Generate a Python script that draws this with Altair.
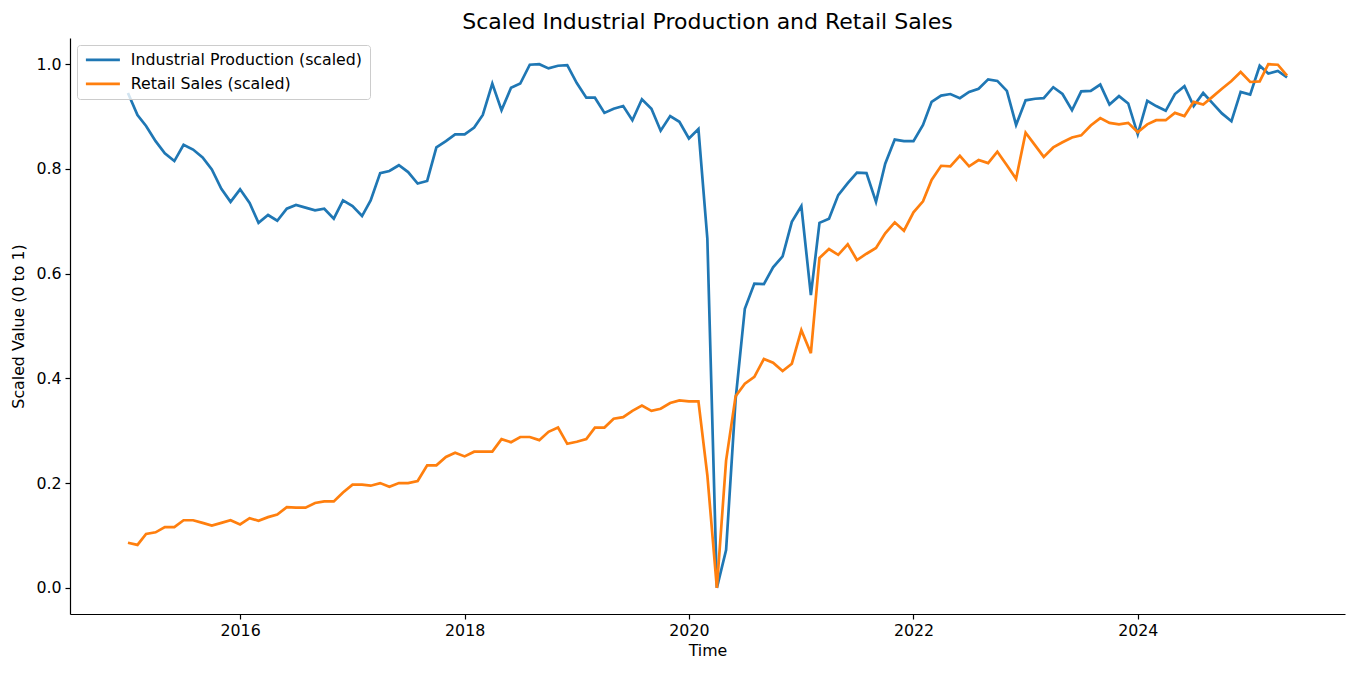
import altair as alt
import pandas as pd

# ---- data ----
start_month = "2015-01-01"
n_months = 125  # 2015-01 .. 2025-05

series_names = ["Industrial Production (scaled)", "Retail Sales (scaled)"]
series_colors = ["#1f77b4", "#ff7f0e"]

industrial = [
    0.945, 0.903, 0.882, 0.853, 0.830, 0.815, 0.846, 0.837, 0.822, 0.799, 0.762, 0.737,
    0.761, 0.735, 0.697, 0.712, 0.701, 0.724, 0.731, 0.726, 0.721, 0.724, 0.705, 0.740,
    0.729, 0.710, 0.740, 0.792, 0.796, 0.807, 0.794, 0.772, 0.777, 0.841, 0.853, 0.866,
    0.866, 0.879, 0.903, 0.963, 0.912, 0.955, 0.963, 0.999, 1.000, 0.992, 0.997, 0.998,
    0.964, 0.936, 0.936, 0.907, 0.915, 0.920, 0.893, 0.933, 0.915, 0.873, 0.901, 0.890,
    0.858, 0.876, 0.667, 0.000, 0.072, 0.360, 0.533, 0.581, 0.580, 0.612, 0.633, 0.699,
    0.729, 0.559, 0.697, 0.705, 0.750, 0.773, 0.793, 0.792, 0.737, 0.810, 0.856, 0.853,
    0.853, 0.884, 0.928, 0.940, 0.943, 0.935, 0.947, 0.953, 0.971, 0.968, 0.949, 0.884,
    0.931, 0.934, 0.935, 0.956, 0.943, 0.912, 0.948, 0.949, 0.961, 0.923, 0.939, 0.925,
    0.866, 0.930, 0.920, 0.911, 0.943, 0.958, 0.920, 0.945, 0.925, 0.906, 0.891, 0.947,
    0.942, 0.997, 0.982, 0.987, 0.975,
]

retail = [
    0.086, 0.082, 0.103, 0.106, 0.116, 0.116, 0.129, 0.129, 0.124, 0.119, 0.124, 0.129,
    0.121, 0.133, 0.128, 0.135, 0.140, 0.154, 0.153, 0.153, 0.162, 0.165, 0.165, 0.182,
    0.197, 0.197, 0.195, 0.200, 0.193, 0.200, 0.200, 0.204, 0.234, 0.234, 0.250, 0.258,
    0.251, 0.260, 0.260, 0.260, 0.284, 0.278, 0.288, 0.288, 0.282, 0.298, 0.306, 0.275,
    0.279, 0.284, 0.306, 0.306, 0.323, 0.326, 0.338, 0.348, 0.338, 0.342, 0.353, 0.358,
    0.356, 0.356, 0.215, 0.000, 0.243, 0.366, 0.390, 0.403, 0.437, 0.430, 0.414, 0.428,
    0.492, 0.448, 0.630, 0.647, 0.636, 0.656, 0.626, 0.638, 0.649, 0.677, 0.698, 0.682,
    0.717, 0.738, 0.779, 0.806, 0.805, 0.825, 0.805, 0.817, 0.811, 0.833, 0.807, 0.781,
    0.869, 0.845, 0.823, 0.841, 0.851, 0.860, 0.864, 0.883, 0.897, 0.888, 0.885, 0.888,
    0.870, 0.885, 0.893, 0.893, 0.907, 0.901, 0.928, 0.923, 0.938, 0.953, 0.968, 0.985,
    0.966, 0.967, 1.000, 0.999, 0.978,
]

x_tick_years = [2016, 2018, 2020, 2022, 2024]
y_ticks = [0.0, 0.2, 0.4, 0.6, 0.8, 1.0]

# ---- table ----
dates = pd.date_range(start_month, periods=n_months, freq="MS")
date_str = [d.strftime("%Y-%m-%d") for d in dates]
df = pd.concat([
    pd.DataFrame({"date": date_str, "value": industrial, "series": series_names[0]}),
    pd.DataFrame({"date": date_str, "value": retail, "series": series_names[1]}),
], ignore_index=True)

epoch = pd.Timestamp("1970-01-01")
def ms(ts):
    return int((ts - epoch).total_seconds() * 1000)

pad = (dates[-1] - dates[0]) * 0.05
x_domain = [ms(dates[0] - pad), ms(dates[-1] + pad)]
x_tick_values = [ms(pd.Timestamp(f"{y}-01-01")) for y in x_tick_years]

FONT = "DejaVu Sans"
FS = 15.8

chart = alt.Chart(df).mark_line(strokeWidth=2.7).encode(
    x=alt.X(
        "date:T", timeUnit="utcyearmonth", title="Time",
        scale=alt.Scale(domain=x_domain, nice=False),
        axis=alt.Axis(values=x_tick_values, format="%Y", grid=False, titlePadding=6),
    ),
    y=alt.Y(
        "value:Q", title="Scaled Value (0 to 1)",
        scale=alt.Scale(domain=[-0.05, 1.05], nice=False, zero=False),
        axis=alt.Axis(values=y_ticks, format=".1f", grid=False, titlePadding=9),
    ),
    color=alt.Color(
        "series:N",
        scale=alt.Scale(domain=series_names, range=series_colors),
        legend=alt.Legend(
            title=None, orient="top-left", offset=7, padding=7,
            fillColor="rgba(255,255,255,0.8)", strokeColor="#cccccc", cornerRadius=3,
            symbolType="M-3.4,0H3.4", symbolSize=100, symbolStrokeWidth=2.7,
            symbolOffset=11, labelOffset=20, rowPadding=7,
            labelFont=FONT, labelFontSize=FS, labelColor="black", labelLimit=400,
        ),
    ),
    order=alt.Order("date:T"),
).properties(
    width=1275,
    height=576,
    title=alt.Title(
        "Scaled Industrial Production and Retail Sales",
        font=FONT, fontSize=22, fontWeight="normal", color="black",
        anchor="middle", frame="group", baseline="alphabetic", offset=9, dy=22,
    ),
    autosize=alt.AutoSizeParams(type="none"),
    padding={"left": 62, "top": 30, "right": 5, "bottom": 51},
).configure_view(
    stroke=None
).configure_axis(
    domainColor="black", domainWidth=1.2, tickColor="black", tickWidth=1.2, tickSize=5,
    labelFont=FONT, labelFontSize=FS, labelColor="black", labelPadding=4,
    titleFont=FONT, titleFontSize=FS, titleColor="black", titleFontWeight="normal",
)

chart.save("out.html", embed_options={"renderer": "svg", "actions": False})
